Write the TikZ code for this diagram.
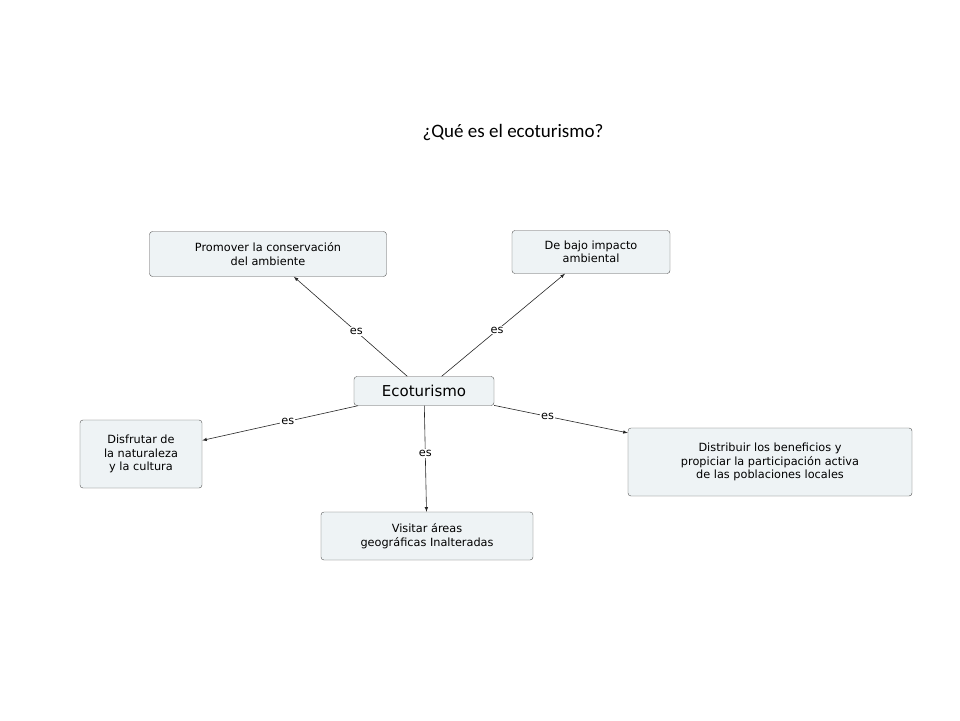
\documentclass[tikz,border=0pt]{standalone}
\usepackage{fontspec}
\setmainfont{DejaVu Sans}
\newfontfamily\titlefont{Carlito}
\definecolor{boxfill}{HTML}{EEF3F5}
\definecolor{boxline}{HTML}{555555}
\begin{document}
\begin{tikzpicture}[x=1pt,y=-1pt,
  concept/.style={draw=boxline,fill=boxfill,rounded corners=3pt,align=center,font=\fontsize{11.3}{13.5}\selectfont,inner sep=3pt},
  link/.style={draw=black!85,-latex,line width=0.6pt},
  lab/.style={fill=white,inner sep=1pt,font=\fontsize{11.3}{13}\selectfont}]
\useasboundingbox (0,0) rectangle (960,720);
\fill[white] (0,0) rectangle (960,720);
\node[font=\titlefont\fontsize{19}{22}\selectfont] (title) at (513,132) {¿Qué es el ecoturismo?};
\node[concept,font=\fontsize{15}{18}\selectfont,minimum width=140pt,minimum height=29pt] (eco) at (424,391) {Ecoturismo};
\node[concept,minimum width=237pt,minimum height=45pt] (prom) at (268,254) {Promover la conservación\\del ambiente};
\node[concept,minimum width=158pt,minimum height=43pt] (bajo) at (591,252) {De bajo impacto\\ambiental};
\node[concept,minimum width=122pt,minimum height=68pt] (dis) at (141,454) {Disfrutar de\\la naturaleza\\y la cultura};
\node[concept,minimum width=212pt,minimum height=48pt] (vis) at (427,536) {Visitar áreas\\geográficas Inalteradas};
\node[concept,minimum width=284pt,minimum height=68pt] (distr) at (770,462) {Distribuir los beneficios y\\propiciar la participación activa\\de las poblaciones locales};
\draw[link] (eco) -- node[lab,pos=0.45] {es} (prom);
\draw[link] (eco) -- node[lab,pos=0.45] {es} (bajo);
\draw[link] (eco) -- node[lab,pos=0.45] {es} (dis);
\draw[link] (eco) -- node[lab,pos=0.45] {es} (vis);
\draw[link] (eco) -- node[lab,pos=0.4] {es} (distr);
\end{tikzpicture}
\end{document}
